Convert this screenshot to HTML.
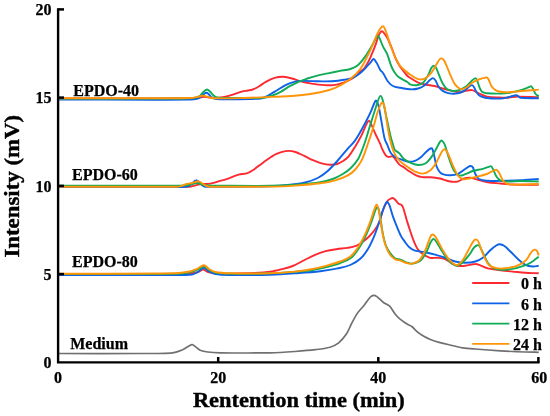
<!DOCTYPE html>
<html><head><meta charset="utf-8"><title>GPC chart</title>
<style>
html,body{margin:0;padding:0;background:#fff;}
body{width:550px;height:416px;overflow:hidden;}
svg{display:block;font-family:"Liberation Serif","Times New Roman",serif;font-weight:bold;fill:#000;stroke:#000;stroke-width:0.25;}
.c path{fill:none;stroke-width:1.9;stroke-linejoin:round;stroke-linecap:butt;}
.a path{fill:none;stroke:#000;stroke-width:2.4;stroke-linecap:square;}
.a path.k{stroke-width:2.5;stroke-linecap:butt;}
.l{font-size:16px;}
.t{font-size:21.6px;stroke-width:0.4;}
</style></head><body>
<svg width="550" height="416" viewBox="0 0 550 416">
<rect width="550" height="416" fill="#fff" stroke="none"/>
<g class="c">
<path d="M58.5 353.5C85.7 353.5 112.8 353.6 140.0 353.5C148.4 353.5 156.7 353.6 165.1 353.3C168.4 353.2 171.8 353.0 175.1 352.3C177.6 351.8 180.1 350.8 182.6 349.7C184.7 348.7 186.8 347.1 188.9 346.0C190.0 345.4 191.1 344.6 192.2 344.7C193.2 344.8 194.2 345.8 195.2 346.5C196.9 347.6 198.5 349.5 200.2 350.2C202.7 351.3 205.2 351.7 207.7 352.0C211.9 352.5 216.1 352.7 220.3 352.8C236.9 353.0 253.4 353.1 270.0 352.8C278.4 352.7 286.7 352.1 295.1 351.5C301.8 351.0 308.5 350.5 315.2 349.7C320.1 349.1 325.1 348.6 330.0 347.2C332.9 346.3 335.8 345.1 338.7 342.8C341.3 340.7 343.8 337.9 346.4 334.1C348.2 331.4 350.0 326.6 351.8 323.2C353.6 319.7 355.5 316.1 357.3 313.4C359.5 310.2 361.6 308.4 363.8 305.7C366.0 302.9 368.2 299.3 370.4 297.0C371.5 295.9 372.5 295.4 373.6 295.3C374.7 295.2 375.8 295.8 376.9 296.6C379.1 298.2 381.3 300.8 383.5 302.5C385.0 303.6 386.5 304.1 388.0 305.0C388.7 305.4 389.3 305.6 390.0 306.4C391.8 308.7 393.7 312.2 395.5 314.5C396.9 316.3 398.4 317.6 399.8 318.8C402.4 320.9 404.9 322.7 407.5 324.3C408.9 325.2 410.4 325.4 411.8 326.5C413.6 327.9 415.5 330.4 417.3 331.9C419.5 333.7 421.6 335.0 423.8 336.3C426.0 337.6 428.2 338.6 430.4 339.5C433.3 340.7 436.2 341.6 439.1 342.4C442.7 343.4 446.4 344.2 450.0 345.0C454.2 346.0 458.5 347.1 462.7 347.8C466.9 348.5 471.1 348.7 475.3 349.0C483.7 349.7 492.0 350.3 500.4 350.8C508.7 351.3 517.1 351.7 525.4 352.0C529.8 352.2 534.3 352.2 538.7 352.3" stroke="#707070" style="stroke-width:1.7"/>
<path d="M58.5 98.5C89.0 98.5 119.5 98.5 150.0 98.5C163.3 98.5 176.7 98.5 190.0 98.4C192.7 98.4 195.3 98.3 198.0 98.0C200.0 97.8 202.0 96.9 204.0 96.8C205.3 96.7 206.7 97.1 208.0 97.3C210.0 97.5 212.0 98.0 214.0 98.0C216.9 98.0 219.9 97.8 222.8 97.3C225.5 96.9 228.2 96.0 230.9 95.2C234.5 94.1 238.2 92.6 241.8 91.6C243.8 91.0 245.9 90.9 247.9 90.5C249.5 90.2 251.1 90.1 252.7 89.5C254.9 88.7 257.1 87.5 259.3 86.2C261.5 84.9 263.6 83.0 265.8 81.8C268.7 80.2 271.6 78.7 274.5 77.9C277.4 77.1 280.4 76.7 283.3 76.8C286.2 76.9 289.1 77.7 292.0 78.5C294.9 79.3 297.8 80.6 300.7 81.4C304.3 82.3 308.0 83.0 311.6 83.6C316.0 84.3 320.3 84.8 324.7 85.1C327.6 85.3 330.6 85.5 333.5 85.1C336.6 84.7 339.7 83.9 342.8 82.8C346.1 81.6 349.5 80.3 352.8 78.2C355.2 76.7 357.6 73.9 360.0 71.8C361.5 70.5 363.0 69.9 364.5 68.0C366.0 66.1 367.5 63.4 369.0 60.5C370.1 58.4 371.1 55.8 372.2 53.2C373.4 50.4 374.5 47.5 375.7 44.3C376.7 41.6 377.7 37.9 378.7 35.4C379.3 33.8 380.0 33.0 380.6 32.2C381.1 31.6 381.6 31.2 382.1 31.3C382.7 31.4 383.2 32.1 383.8 32.8C384.5 33.6 385.3 34.7 386.0 35.8C386.7 36.9 387.5 37.9 388.2 39.5C389.5 42.3 390.8 45.7 392.1 49.0C393.4 52.2 394.6 56.2 395.9 59.0C397.2 61.8 398.4 63.9 399.7 66.0C400.6 67.4 401.4 68.4 402.3 69.5C404.0 71.7 405.8 74.1 407.5 76.0C408.3 76.9 409.2 77.3 410.0 77.8C412.7 79.5 415.5 81.5 418.2 82.7C420.9 83.9 423.7 84.1 426.4 84.7C429.1 85.2 431.8 85.4 434.5 86.0C437.2 86.6 440.0 87.7 442.7 88.5C445.8 89.4 448.9 90.2 452.0 90.9C454.4 91.4 456.7 92.2 459.1 92.2C461.3 92.2 463.4 91.2 465.6 90.9C467.8 90.5 470.0 89.7 472.2 90.1C474.4 90.5 476.5 92.4 478.7 93.4C481.4 94.6 484.2 96.1 486.9 96.6C491.3 97.4 495.6 97.3 500.0 97.5C502.6 97.6 505.3 97.8 507.9 97.7C511.2 97.5 514.6 96.6 517.9 96.6C524.8 96.5 531.8 97.1 538.7 97.3" stroke="#fc2a30"/>
<path d="M58.5 99.6C89.0 99.6 119.5 99.7 150.0 99.7C163.3 99.7 176.7 99.8 190.0 99.6C192.3 99.6 194.7 99.5 197.0 98.9C198.3 98.6 199.7 97.7 201.0 96.8C202.0 96.1 203.0 94.8 204.0 94.0C204.8 93.4 205.5 92.8 206.3 92.8C207.0 92.8 207.8 93.4 208.5 94.0C209.3 94.7 210.2 96.1 211.0 96.8C212.0 97.6 213.0 98.3 214.0 98.6C216.0 99.1 218.0 99.2 220.0 99.2C230.0 99.3 240.0 99.2 250.0 99.0C254.0 98.9 258.0 98.9 262.0 98.2C264.0 97.8 266.0 96.7 268.0 95.7C269.3 95.0 270.7 94.0 272.0 93.2C273.6 92.3 275.1 91.4 276.7 90.5C279.6 88.7 282.6 86.6 285.5 85.1C288.4 83.7 291.3 82.5 294.2 81.8C297.1 81.1 300.0 81.0 302.9 80.9C308.0 80.8 313.1 81.2 318.2 81.3C322.8 81.3 327.4 81.5 332.0 81.2C336.0 81.0 340.0 80.5 344.0 79.8C347.2 79.2 350.5 78.7 353.7 77.3C356.1 76.3 358.5 74.5 360.9 72.5C363.3 70.5 365.7 67.7 368.1 65.2C369.2 64.0 370.4 62.6 371.5 61.3C372.2 60.5 372.9 58.8 373.6 59.0C374.6 59.3 375.6 61.1 376.6 62.7C377.9 64.8 379.1 68.2 380.4 70.2C381.2 71.5 382.1 71.4 382.9 72.7C384.6 75.2 386.2 79.3 387.9 81.5C389.6 83.7 391.2 85.2 392.9 86.0C395.4 87.3 398.0 87.3 400.5 87.8C403.7 88.4 406.8 89.2 410.0 89.3C412.7 89.4 415.5 89.3 418.2 88.5C420.4 87.9 422.5 86.8 424.7 85.2C426.3 84.0 428.0 81.7 429.6 80.3C430.7 79.3 431.8 78.1 432.9 78.1C433.7 78.1 434.6 79.0 435.4 80.3C436.5 81.9 437.5 85.3 438.6 86.8C440.0 88.8 441.3 90.1 442.7 90.9C444.9 92.3 447.1 93.0 449.3 93.4C452.0 93.9 454.8 93.9 457.5 93.4C459.7 93.0 461.8 92.2 464.0 90.9C465.6 90.0 467.3 88.0 468.9 86.8C469.9 86.1 470.9 85.1 471.9 85.1C472.5 85.1 473.2 85.8 473.8 86.8C474.6 88.0 475.5 90.4 476.3 91.7C477.4 93.4 478.5 95.1 479.6 95.8C481.5 97.1 483.4 97.5 485.3 97.8C490.3 98.5 495.4 98.8 500.4 98.6C503.7 98.4 507.1 97.3 510.4 96.6C512.5 96.2 514.6 95.0 516.7 95.3C517.9 95.4 519.2 97.6 520.4 97.8C526.5 98.6 532.6 98.1 538.7 98.3" stroke="#0e62e8"/>
<path d="M58.5 98.6C89.0 98.6 119.5 98.7 150.0 98.6C163.3 98.6 176.7 98.6 190.0 98.3C192.3 98.2 194.7 98.0 197.0 97.4C198.2 97.1 199.3 96.5 200.5 95.5C201.5 94.6 202.5 92.7 203.5 91.8C204.6 90.7 205.8 89.6 206.9 89.5C207.9 89.5 209.0 90.6 210.0 91.5C211.0 92.4 212.0 94.0 213.0 95.0C214.0 96.0 215.0 96.9 216.0 97.2C218.0 97.8 220.0 97.8 222.0 97.9C226.3 98.1 230.7 98.0 235.0 98.0C241.7 98.0 248.3 98.1 255.0 98.0C258.3 98.0 261.7 98.1 265.0 97.6C267.5 97.2 269.9 96.4 272.4 95.5C275.3 94.4 278.2 93.2 281.1 91.6C284.0 90.0 286.9 87.8 289.8 86.2C292.7 84.6 295.6 83.1 298.5 81.8C301.4 80.5 304.4 79.5 307.3 78.5C310.9 77.3 314.6 76.2 318.2 75.3C321.8 74.4 325.5 73.8 329.1 73.1C332.7 72.4 336.4 71.6 340.0 70.9C343.4 70.2 346.9 70.1 350.3 69.0C352.8 68.2 355.3 67.3 357.8 65.2C360.3 63.1 362.8 59.9 365.3 56.4C367.8 52.8 370.4 48.2 372.9 43.9C374.2 41.7 375.5 39.0 376.8 37.0C377.3 36.3 377.8 35.5 378.3 35.8C378.9 36.2 379.4 37.9 380.0 39.2C381.1 41.6 382.1 44.7 383.2 46.9C384.5 49.5 385.7 50.8 387.0 53.6C387.8 55.5 388.7 58.5 389.5 60.9C390.1 62.8 390.8 65.0 391.4 66.5C392.3 68.5 393.1 70.2 394.0 71.5C395.3 73.5 396.6 75.5 397.9 76.5C401.3 79.1 404.6 80.3 408.0 82.5C408.7 82.9 409.3 84.2 410.0 84.4C412.2 85.1 414.3 85.5 416.5 85.2C418.7 84.9 420.9 84.6 423.1 82.7C424.7 81.3 426.4 78.3 428.0 75.4C429.1 73.4 430.2 69.9 431.3 68.0C432.1 66.7 432.9 65.8 433.7 65.8C434.5 65.8 435.4 66.5 436.2 68.0C437.3 70.0 438.4 73.6 439.5 76.2C440.6 78.8 441.6 81.7 442.7 83.6C444.1 86.0 445.4 88.0 446.8 89.0C448.7 90.4 450.7 90.7 452.6 90.9C454.8 91.1 456.9 90.8 459.1 90.1C461.3 89.4 463.4 88.4 465.6 86.8C467.5 85.4 469.5 82.8 471.4 81.1C472.8 79.9 474.1 78.3 475.5 78.1C476.0 78.0 476.6 79.1 477.1 80.3C477.9 82.2 478.8 85.7 479.6 87.6C480.4 89.5 481.2 91.1 482.0 91.7C483.6 93.0 485.3 93.0 486.9 93.2C491.4 93.7 495.9 93.7 500.4 93.6C503.5 93.6 506.5 93.4 509.6 92.9C512.8 92.4 516.0 91.6 519.2 90.7C521.5 90.1 523.7 89.2 526.0 88.3C527.2 87.9 528.3 87.3 529.5 86.8C530.1 86.6 530.7 85.8 531.3 86.2C531.9 86.6 532.6 88.1 533.2 89.2C534.0 90.7 534.8 93.0 535.6 94.0C536.6 95.3 537.7 95.5 538.7 96.2" stroke="#10ab56"/>
<path d="M58.5 98.2C89.0 98.2 119.5 98.2 150.0 98.2C163.3 98.2 176.7 98.4 190.0 98.0C192.7 97.9 195.3 97.3 198.0 96.8C199.8 96.5 201.7 95.6 203.5 95.6C205.0 95.6 206.5 96.6 208.0 97.0C210.0 97.5 212.0 98.1 214.0 98.2C222.7 98.5 231.3 98.3 240.0 98.1C250.0 97.9 260.0 97.3 270.0 96.9C278.4 96.6 286.7 96.6 295.1 95.8C303.5 95.0 311.8 94.0 320.2 92.3C325.2 91.3 330.2 90.0 335.2 87.8C340.2 85.6 345.3 82.8 350.3 79.0C353.6 76.5 357.0 73.8 360.3 69.0C363.7 64.2 367.0 57.1 370.4 50.1C372.9 44.9 375.4 37.4 377.9 32.6C379.6 29.4 381.2 26.6 382.9 26.3C383.9 26.1 384.9 28.8 385.9 31.3C387.4 35.1 388.9 40.9 390.4 45.1C392.1 49.7 393.7 54.2 395.4 57.7C397.1 61.3 398.8 64.4 400.5 66.4C403.7 70.0 406.8 72.2 410.0 74.5C412.7 76.5 415.5 78.3 418.2 79.1C420.4 79.7 422.5 79.6 424.7 78.6C426.9 77.6 429.1 75.6 431.3 72.9C432.9 70.9 434.6 67.4 436.2 64.7C437.3 62.9 438.4 60.8 439.5 59.5C440.2 58.7 440.9 58.3 441.6 58.4C442.4 58.5 443.1 58.9 443.9 60.1C444.9 61.6 445.8 64.2 446.8 66.4C448.2 69.5 449.5 73.2 450.9 76.2C452.3 79.2 453.6 82.4 455.0 84.4C456.4 86.4 457.7 87.4 459.1 88.3C460.2 89.0 461.3 89.2 462.4 89.1C463.8 88.9 465.1 88.2 466.5 87.3C468.4 86.1 470.3 83.9 472.2 82.7C474.4 81.3 476.5 80.4 478.7 79.5C480.6 78.7 482.6 78.3 484.5 77.8C485.3 77.6 486.1 77.1 486.9 77.4C487.5 77.6 488.0 78.4 488.6 79.5C489.4 81.0 490.2 83.8 491.0 85.2C492.1 87.1 493.2 88.5 494.3 89.3C496.2 90.7 498.1 91.4 500.0 91.8C502.6 92.4 505.3 92.3 507.9 92.2C511.7 92.1 515.4 91.6 519.2 91.3C523.0 91.0 526.7 90.6 530.5 90.3C533.2 90.1 536.0 89.8 538.7 89.6" stroke="#ff9408"/>
<path d="M58.5 186.8C99.0 186.8 139.5 186.8 180.0 186.8C183.0 186.8 186.0 187.1 189.0 186.8C191.2 186.6 193.3 185.9 195.5 185.4C197.6 184.9 199.7 184.2 201.8 184.0C203.9 183.7 206.1 184.1 208.2 183.9C210.3 183.7 212.4 183.1 214.5 182.6C216.6 182.1 218.8 181.3 220.9 180.7C223.0 180.1 225.2 179.5 227.3 178.8C229.4 178.1 231.5 177.1 233.6 176.3C235.3 175.7 237.0 175.0 238.7 174.6C241.6 173.9 244.6 174.2 247.5 173.2C249.7 172.5 251.8 171.0 254.0 169.5C256.9 167.5 259.8 165.0 262.7 162.9C266.3 160.3 270.0 157.3 273.6 155.3C276.5 153.6 279.5 152.7 282.4 151.8C284.4 151.2 286.5 150.9 288.5 150.9C290.8 150.9 293.2 151.3 295.5 152.0C298.4 152.9 301.3 154.6 304.2 155.9C307.1 157.2 310.0 158.9 312.9 160.1C315.8 161.3 318.7 162.5 321.6 163.3C324.5 164.1 327.5 164.6 330.4 164.7C332.6 164.8 334.7 164.7 336.9 164.0C339.1 163.3 341.3 162.1 343.5 160.7C345.2 159.6 346.8 158.6 348.5 156.6C350.8 153.9 353.0 150.1 355.3 146.4C357.4 143.0 359.5 139.4 361.6 135.2C363.3 131.9 364.9 127.1 366.6 123.9C367.4 122.3 368.3 120.4 369.1 120.6C369.9 120.8 370.8 123.3 371.6 125.1C372.9 127.8 374.1 131.1 375.4 133.9C376.9 137.2 378.5 140.0 380.0 143.4C380.8 145.2 381.6 147.7 382.4 149.4C383.4 151.5 384.4 153.6 385.4 154.8C386.4 156.1 387.4 156.7 388.4 156.9C389.6 157.2 390.8 156.3 392.0 156.4C392.6 156.4 393.2 156.7 393.8 157.2C394.4 157.7 395.0 158.8 395.6 159.6C396.8 161.2 398.0 163.3 399.2 164.4C400.8 165.9 402.4 166.4 404.0 167.5C406.0 168.9 408.0 170.4 410.0 171.7C412.0 173.0 414.1 174.4 416.1 175.3C418.1 176.2 420.1 176.8 422.1 177.1C424.9 177.5 427.7 177.2 430.5 177.3C432.1 177.4 433.7 177.5 435.3 177.7C436.9 177.9 438.5 178.1 440.1 178.5C443.5 179.4 446.8 180.9 450.2 181.5C452.7 181.9 455.2 182.0 457.7 181.5C459.8 181.0 461.9 179.1 464.0 178.5C466.1 177.9 468.1 177.6 470.2 177.8C472.7 178.0 475.3 179.2 477.8 179.8C481.1 180.7 484.5 181.8 487.8 182.3C492.0 183.0 496.2 183.1 500.4 183.5C504.6 183.9 508.7 184.4 512.9 184.5C521.5 184.8 530.1 184.7 538.7 184.8" stroke="#fc2a30"/>
<path d="M58.5 187.0C99.0 187.0 139.5 187.2 180.0 187.0C182.7 187.0 185.3 187.1 188.0 186.3C189.3 185.9 190.7 184.5 192.0 183.5C193.4 182.5 194.7 180.4 196.1 180.2C197.2 180.0 198.4 181.6 199.5 182.5C200.7 183.4 201.8 185.2 203.0 185.8C204.7 186.7 206.3 186.9 208.0 186.9C228.7 187.0 249.3 186.7 270.0 186.2C276.7 186.0 283.3 185.5 290.0 184.8C295.0 184.3 300.1 183.7 305.1 182.5C309.3 181.5 313.5 180.1 317.7 178.0C321.0 176.3 324.4 173.9 327.7 171.0C331.0 168.1 334.4 164.2 337.7 160.5C341.1 156.7 344.4 152.5 347.8 148.6C350.0 146.1 352.2 144.3 354.4 141.4C356.4 138.7 358.4 135.2 360.4 131.8C362.4 128.4 364.4 124.6 366.4 120.8C367.8 118.1 369.2 115.3 370.6 112.2C371.9 109.2 373.3 105.2 374.6 102.5C375.2 101.4 375.7 100.2 376.3 100.7C377.1 101.4 377.8 103.0 378.6 106.0C379.5 109.4 380.3 115.4 381.2 120.1C382.3 125.9 383.3 133.3 384.4 137.7C385.3 141.5 386.3 142.4 387.2 144.6C388.4 147.5 389.6 151.2 390.8 153.0C392.4 155.4 394.0 156.2 395.6 157.2C397.6 158.4 399.6 158.9 401.6 159.6C404.0 160.4 406.4 161.5 408.8 161.7C410.8 161.9 412.9 161.6 414.9 160.8C416.9 160.1 418.9 158.8 420.9 157.2C422.9 155.6 424.9 153.0 426.9 151.2C428.1 150.1 429.3 149.0 430.5 148.5C431.1 148.2 431.7 147.7 432.3 148.8C432.9 150.0 433.5 152.9 434.1 155.4C434.9 158.7 435.7 164.0 436.5 166.3C437.7 169.6 438.8 171.0 440.0 172.3C441.2 173.7 442.3 174.1 443.5 174.4C445.7 175.1 448.0 175.4 450.2 175.3C452.7 175.2 455.2 175.1 457.7 174.0C460.2 172.9 462.7 170.6 465.2 169.0C466.9 167.9 468.5 166.4 470.2 166.0C471.1 165.8 471.9 165.8 472.8 167.2C473.6 168.5 474.5 172.4 475.3 174.0C476.5 176.3 477.8 178.3 479.0 179.0C481.9 180.6 484.9 180.6 487.8 180.8C493.7 181.2 499.5 180.9 505.4 180.8C510.4 180.7 515.4 180.6 520.4 180.3C526.5 180.0 532.6 179.4 538.7 179.0" stroke="#0e62e8"/>
<path d="M58.5 185.6C99.0 185.6 139.5 185.8 180.0 185.6C182.7 185.6 185.3 185.4 188.0 185.0C189.7 184.8 191.3 184.2 193.0 183.8C194.2 183.5 195.5 183.0 196.7 183.0C197.8 183.0 198.9 183.5 200.0 183.8C201.7 184.3 203.3 185.1 205.0 185.3C208.3 185.7 211.7 185.6 215.0 185.6C233.3 185.7 251.7 186.0 270.0 185.8C278.4 185.7 286.7 185.4 295.1 184.8C303.5 184.2 311.8 183.6 320.2 182.3C324.4 181.7 328.5 180.5 332.7 179.0C336.1 177.8 339.4 176.0 342.8 174.0C345.3 172.5 347.8 171.0 350.3 168.5C353.0 165.9 355.6 163.4 358.3 158.7C360.3 155.1 362.4 149.5 364.4 143.8C366.0 139.2 367.7 133.2 369.3 128.0C371.2 122.0 373.0 116.1 374.9 110.3C376.1 106.6 377.2 102.4 378.4 99.5C379.1 97.6 379.9 95.8 380.6 95.9C381.3 95.9 381.9 97.4 382.6 99.8C383.7 103.8 384.9 109.9 386.0 115.1C387.4 121.7 388.9 129.1 390.3 135.2C391.1 138.5 391.8 140.8 392.6 143.4C393.2 145.4 393.8 148.0 394.4 149.2C395.1 150.6 395.8 150.7 396.5 151.3C397.4 152.1 398.3 152.3 399.2 153.2C400.8 154.8 402.4 157.7 404.0 159.0C406.4 161.0 408.9 162.2 411.3 163.2C413.7 164.2 416.1 165.0 418.5 165.0C420.9 165.0 423.3 164.7 425.7 163.2C427.7 161.9 429.7 159.4 431.7 156.6C433.3 154.4 434.9 151.1 436.5 148.2C437.7 146.1 438.9 143.2 440.1 141.6C440.7 140.7 441.4 140.3 442.0 140.7C442.9 141.3 443.8 142.2 444.7 144.5C446.1 148.0 447.5 154.1 448.9 158.0C450.6 162.7 452.2 167.5 453.9 170.4C455.6 173.3 457.3 174.9 459.0 175.5C461.1 176.2 463.1 174.9 465.2 174.2C467.7 173.4 470.3 171.8 472.8 171.0C476.1 170.0 479.5 169.7 482.8 168.8C484.9 168.3 486.9 167.4 489.0 166.8C489.7 166.6 490.5 165.8 491.2 166.3C491.9 166.7 492.5 168.2 493.2 169.5C494.3 171.7 495.5 175.1 496.6 176.8C497.9 178.7 499.1 180.0 500.4 180.5C502.9 181.6 505.4 181.5 507.9 181.6C512.1 181.7 516.2 181.0 520.4 181.0C526.5 181.0 532.6 181.3 538.7 181.5" stroke="#10ab56"/>
<path d="M58.5 186.7C97.7 186.7 136.8 187.0 176.0 186.7C178.0 186.7 180.0 186.3 182.0 185.8C183.5 185.4 185.0 184.4 186.5 184.0C188.0 183.6 189.5 183.6 191.0 183.2C192.3 182.9 193.7 182.4 195.0 182.0C196.0 181.7 197.0 181.2 198.0 181.3C199.0 181.4 200.0 181.9 201.0 182.5C202.2 183.2 203.3 184.3 204.5 185.0C205.7 185.7 206.8 186.4 208.0 186.5C212.0 187.0 216.0 186.8 220.0 186.8C236.7 186.8 253.3 186.9 270.0 186.6C278.3 186.5 286.7 186.1 295.0 185.6C303.4 185.0 311.8 184.4 320.2 183.3C325.2 182.6 330.2 181.7 335.2 180.3C339.4 179.1 343.6 177.6 347.8 175.3C350.3 174.0 352.8 172.3 355.3 169.5C357.5 167.0 359.8 164.2 362.0 159.6C363.9 155.7 365.9 149.5 367.8 144.0C369.5 139.2 371.2 134.1 372.9 128.6C374.6 123.2 376.2 116.5 377.9 111.3C378.9 108.2 379.9 105.8 380.9 103.8C381.4 102.8 381.9 102.1 382.4 102.5C383.1 103.0 383.7 103.3 384.4 106.3C385.3 110.2 386.1 117.9 387.0 123.0C388.0 128.9 389.0 135.2 390.0 139.5C391.2 144.7 392.4 148.6 393.6 151.5C395.1 155.1 396.5 157.2 398.0 159.0C400.1 161.5 402.1 162.7 404.2 164.4C405.3 165.3 406.4 166.1 407.5 166.8C410.0 168.4 412.5 170.4 415.0 171.5C417.5 172.6 420.1 173.8 422.6 173.6C425.1 173.5 427.6 172.6 430.1 170.6C432.2 168.9 434.3 165.9 436.4 162.5C438.1 159.8 439.7 155.1 441.4 152.4C442.5 150.7 443.5 149.0 444.6 149.2C445.7 149.4 446.8 151.3 447.9 153.5C449.6 156.8 451.2 161.9 452.9 165.6C454.6 169.3 456.2 173.2 457.9 175.5C459.6 177.8 461.2 178.8 462.9 179.2C465.3 179.7 467.8 178.7 470.2 178.2C473.6 177.6 476.9 176.8 480.3 175.9C482.8 175.2 485.3 174.6 487.8 173.6C489.8 172.8 491.8 171.4 493.8 170.5C494.7 170.1 495.7 169.4 496.6 169.8C497.5 170.2 498.3 171.6 499.2 173.0C500.5 175.1 501.7 178.7 503.0 180.5C504.2 182.2 505.4 183.2 506.6 183.7C508.9 184.6 511.2 184.6 513.5 184.6C521.9 184.7 530.3 184.2 538.7 184.0" stroke="#ff9408"/>
<path d="M58.5 274.1C97.3 274.1 136.2 274.2 175.0 274.0C180.0 274.0 185.0 273.9 190.0 273.5C192.7 273.3 195.3 272.8 198.0 272.0C199.7 271.5 201.4 269.6 203.1 269.6C204.7 269.6 206.4 271.5 208.0 272.0C210.4 272.7 212.9 273.1 215.3 273.3C220.2 273.7 225.1 273.6 230.0 273.6C238.3 273.5 246.7 273.4 255.0 273.0C260.0 272.8 265.0 272.5 270.0 271.8C273.9 271.2 277.9 270.2 281.8 269.2C285.4 268.3 289.1 267.4 292.7 266.0C296.3 264.6 300.0 262.3 303.6 260.5C307.2 258.7 310.9 256.6 314.5 255.1C318.2 253.5 321.8 252.2 325.5 251.2C329.1 250.2 332.8 249.7 336.4 249.2C340.0 248.6 343.7 248.5 347.3 247.9C350.2 247.4 353.1 247.0 356.0 245.9C358.2 245.1 360.3 243.6 362.5 242.0C364.7 240.4 366.9 238.7 369.1 236.5C371.2 234.4 373.3 232.0 375.4 229.0C376.6 227.3 377.9 225.4 379.1 222.4C380.4 219.3 381.6 214.0 382.9 210.5C383.9 207.7 384.9 205.5 385.9 203.5C386.6 202.1 387.3 201.0 388.0 200.3C388.8 199.5 389.6 199.2 390.4 198.8C391.1 198.4 391.9 197.9 392.6 198.0C393.3 198.1 394.0 198.6 394.7 199.2C395.4 199.8 396.2 200.9 396.9 201.8C397.4 202.4 397.9 203.2 398.4 203.6C399.0 204.1 399.6 204.0 400.2 204.3C400.7 204.5 401.2 204.5 401.7 205.2C402.3 205.9 402.8 207.0 403.4 208.5C403.9 209.8 404.4 211.8 404.9 213.5C405.4 215.2 405.9 217.3 406.4 219.0C407.6 222.8 408.7 226.5 409.9 230.0C411.1 233.5 412.2 237.3 413.4 240.2C414.8 243.7 416.2 246.9 417.6 249.0C419.3 251.5 420.9 252.8 422.6 254.0C425.1 255.8 427.6 257.2 430.1 257.8C432.6 258.4 435.1 257.6 437.6 257.8C440.1 258.0 442.7 258.0 445.2 259.0C447.7 260.0 450.2 262.6 452.7 264.0C454.4 264.9 456.0 265.6 457.7 265.8C460.2 266.2 462.7 266.1 465.2 265.8C468.6 265.5 471.9 264.1 475.3 264.0C477.0 263.9 478.6 264.7 480.3 265.3C482.8 266.2 485.3 267.7 487.8 268.3C492.0 269.3 496.2 269.7 500.4 270.3C504.6 270.8 508.7 271.2 512.9 271.6C517.1 272.0 521.2 272.5 525.4 272.8C529.8 273.1 534.3 273.1 538.7 273.3" stroke="#fc2a30"/>
<path d="M58.5 275.0C99.0 275.0 139.5 275.1 180.0 275.0C184.0 275.0 188.0 275.3 192.0 274.6C194.0 274.3 196.0 273.2 198.0 272.0C199.9 270.9 201.9 267.9 203.8 267.8C205.5 267.7 207.3 270.6 209.0 271.5C211.1 272.6 213.2 273.6 215.3 274.0C220.2 274.8 225.1 274.9 230.0 275.0C243.3 275.2 256.7 275.0 270.0 274.7C278.4 274.5 286.7 273.9 295.1 273.3C303.5 272.7 311.8 272.2 320.2 271.2C326.0 270.5 331.9 269.6 337.7 268.4C341.9 267.5 346.1 266.8 350.3 265.0C353.6 263.6 357.0 261.8 360.3 258.8C362.8 256.6 365.3 253.4 367.8 249.3C369.9 245.9 372.0 241.4 374.1 236.4C375.8 232.5 377.4 227.6 379.1 222.6C380.4 218.8 381.6 213.7 382.9 210.1C383.9 207.2 384.9 204.9 385.9 203.1C386.4 202.2 386.9 201.8 387.4 202.1C388.1 202.5 388.7 203.4 389.4 205.1C390.6 208.1 391.7 213.1 392.9 216.4C394.4 220.6 395.8 224.1 397.3 227.6C398.6 230.7 399.9 233.9 401.2 236.4C402.3 238.5 403.5 239.9 404.6 241.4C406.2 243.5 407.7 245.9 409.3 247.3C411.2 249.0 413.1 250.1 415.0 250.7C418.4 251.7 421.7 251.5 425.1 252.2C428.4 252.9 431.8 253.8 435.1 254.7C438.5 255.6 441.8 256.7 445.2 257.8C448.5 258.9 451.9 260.7 455.2 261.5C458.5 262.3 461.9 262.8 465.2 262.8C468.6 262.8 471.9 262.5 475.3 261.5C477.8 260.8 480.3 259.7 482.8 257.8C485.3 255.9 487.8 252.5 490.3 250.2C492.4 248.3 494.5 246.6 496.6 245.3C497.7 244.6 498.7 244.1 499.8 244.2C501.2 244.3 502.7 244.8 504.1 245.8C506.2 247.2 508.3 249.5 510.4 251.5C512.9 253.9 515.4 256.8 517.9 259.0C520.4 261.2 522.9 263.6 525.4 264.8C527.9 266.1 530.5 266.3 533.0 266.5C534.9 266.6 536.8 266.0 538.7 265.8" stroke="#0e62e8"/>
<path d="M58.5 274.0C98.3 273.9 138.2 274.2 178.0 273.7C182.0 273.6 186.0 273.1 190.0 272.3C192.7 271.7 195.3 270.6 198.0 269.5C200.0 268.7 202.0 266.4 204.0 266.5C205.7 266.6 207.3 269.1 209.0 270.0C211.1 271.1 213.2 272.2 215.3 272.6C220.2 273.5 225.1 273.7 230.0 273.8C243.3 274.0 256.7 273.7 270.0 273.3C278.4 273.0 286.7 272.4 295.1 271.8C300.9 271.3 306.8 270.9 312.6 270.0C317.6 269.2 322.7 268.1 327.7 266.8C331.9 265.7 336.0 264.6 340.2 263.0C344.0 261.5 347.7 260.5 351.5 257.5C354.0 255.5 356.5 251.9 359.0 248.0C361.5 244.1 364.0 239.3 366.5 234.0C368.2 230.4 369.9 225.9 371.6 221.4C372.8 218.1 374.1 213.7 375.3 210.5C375.9 208.9 376.5 207.2 377.1 207.1C377.7 207.0 378.3 207.8 378.9 210.0C379.5 212.2 380.1 216.5 380.7 220.1C381.5 224.9 382.3 231.4 383.1 235.2C384.1 240.0 385.1 243.5 386.1 246.0C387.5 249.6 389.0 251.5 390.4 253.4C392.1 255.7 393.7 257.6 395.4 258.6C397.1 259.6 398.8 259.0 400.5 259.6C402.4 260.3 404.4 261.8 406.3 262.4C408.4 263.1 410.4 264.0 412.5 263.6C415.4 263.1 418.4 262.5 421.3 259.8C423.3 258.0 425.3 254.0 427.3 250.2C428.4 248.1 429.5 244.4 430.6 242.3C431.5 240.7 432.3 239.3 433.2 239.0C433.9 238.7 434.7 239.6 435.4 240.5C437.0 242.5 438.5 245.4 440.1 247.9C442.2 251.2 444.3 255.1 446.4 257.8C448.5 260.5 450.6 262.4 452.7 264.0C454.2 265.1 455.7 266.1 457.2 265.8C459.0 265.5 460.9 263.9 462.7 262.3C464.8 260.4 466.9 257.9 469.0 255.2C470.7 253.0 472.3 249.7 474.0 247.7C475.1 246.4 476.2 245.4 477.3 245.2C478.1 245.0 479.0 245.3 479.8 246.5C481.2 248.6 482.6 252.3 484.0 255.2C485.3 257.8 486.5 261.0 487.8 262.8C489.5 265.2 491.1 266.5 492.8 267.8C493.7 268.5 494.6 268.5 495.5 268.7C497.3 269.1 499.1 269.5 500.9 269.7C502.7 269.9 504.6 269.8 506.4 269.7C508.2 269.6 510.0 269.2 511.8 268.9C513.6 268.6 515.5 268.3 517.3 267.8C519.1 267.4 520.9 266.8 522.7 266.2C524.5 265.6 526.4 264.9 528.2 264.0C530.0 263.1 531.8 261.9 533.6 260.7C535.3 259.5 537.0 258.1 538.7 256.8" stroke="#10ab56"/>
<path d="M58.5 273.7C97.3 273.6 136.2 273.9 175.0 273.3C179.3 273.2 183.7 272.7 188.0 271.8C191.0 271.2 194.0 270.0 197.0 268.8C199.3 267.8 201.7 265.2 204.0 265.2C205.7 265.2 207.3 268.0 209.0 269.0C211.1 270.3 213.2 271.6 215.3 272.0C220.2 273.0 225.1 273.2 230.0 273.3C243.3 273.6 256.7 273.5 270.0 273.2C278.4 273.0 286.7 272.4 295.1 271.6C300.9 271.0 306.8 270.1 312.6 269.0C317.6 268.0 322.7 266.7 327.7 265.3C331.9 264.2 336.0 263.1 340.2 261.5C343.6 260.2 346.9 259.1 350.3 256.5C352.8 254.5 355.3 251.5 357.8 247.7C360.3 243.9 362.8 239.1 365.3 233.9C367.0 230.4 368.7 226.0 370.4 221.4C371.6 218.1 372.9 213.4 374.1 210.1C374.9 207.8 375.8 204.9 376.6 204.6C377.2 204.4 377.8 206.4 378.4 208.8C379.1 211.5 379.7 216.2 380.4 220.1C381.2 225.0 382.1 231.2 382.9 235.2C383.9 240.0 384.9 243.8 385.9 246.5C387.4 250.5 388.9 253.3 390.4 255.3C392.1 257.6 393.7 258.5 395.4 259.4C397.1 260.3 398.8 260.0 400.5 260.6C402.4 261.2 404.4 262.4 406.3 263.0C408.0 263.5 409.8 264.2 411.5 263.8C414.1 263.3 416.7 262.8 419.3 260.3C421.2 258.4 423.2 254.6 425.1 250.6C426.4 248.0 427.6 243.8 428.9 240.6C429.6 238.8 430.3 236.8 431.0 235.6C431.5 234.7 432.1 234.5 432.6 234.5C433.2 234.5 433.7 234.8 434.3 235.4C435.0 236.1 435.7 237.0 436.4 238.2C438.1 241.1 439.7 244.8 441.4 247.7C443.5 251.3 445.6 255.1 447.7 257.8C449.8 260.5 451.8 262.6 453.9 264.0C455.2 264.9 456.4 265.3 457.7 264.8C459.4 264.1 461.0 262.6 462.7 260.3C464.8 257.4 466.9 252.7 469.0 249.0C470.4 246.4 471.9 243.4 473.3 241.4C474.1 240.2 475.0 239.4 475.8 239.4C476.6 239.4 477.5 239.8 478.3 241.4C479.4 243.4 480.4 247.5 481.5 250.2C482.8 253.4 484.0 256.5 485.3 259.0C486.6 261.5 487.8 264.2 489.1 265.3C491.2 267.2 493.4 267.3 495.5 267.9C497.3 268.4 499.1 268.6 500.9 268.6C502.7 268.6 504.6 268.3 506.4 268.1C508.2 267.9 510.0 267.7 511.8 267.3C513.6 266.9 515.5 266.3 517.3 265.6C519.1 264.9 520.9 264.0 522.7 262.9C523.8 262.2 524.9 261.4 526.0 260.2C526.9 259.2 527.8 257.8 528.7 256.4C529.6 255.0 530.5 253.2 531.4 252.0C532.1 251.0 532.9 250.5 533.6 250.0C534.0 249.7 534.5 249.6 534.9 249.7C535.6 249.9 536.2 250.2 536.9 250.9C537.3 251.3 537.6 252.2 538.0 253.1C538.2 253.7 538.5 254.7 538.7 255.5" stroke="#ff9408"/>
</g>
<g class="a">
<path d="M58.1 9.4 V362.4 H538.4"/>
<path class="k" d="M218.2 362.4 V357.0"/>
<path class="k" d="M378.3 362.4 V357.0"/>
<path class="k" d="M538.4 362.4 V357.0"/>
<path class="k" d="M58.1 274.1 H64.0"/>
<path class="k" d="M58.1 185.9 H64.0"/>
<path class="k" d="M58.1 97.6 H64.0"/>
<path class="k" d="M58.1 9.4 H64.0"/>
</g>
<g class="l">
<text x="58.1" y="382.6" text-anchor="middle">0</text><text x="218.2" y="382.6" text-anchor="middle">20</text><text x="378.3" y="382.6" text-anchor="middle">40</text><text x="539.2" y="382.6" text-anchor="middle">60</text>
<text x="51.6" y="368.2" text-anchor="end">0</text><text x="51.6" y="279.9" text-anchor="end">5</text><text x="51.6" y="191.7" text-anchor="end">10</text><text x="51.6" y="103.4" text-anchor="end">15</text><text x="51.6" y="15.2" text-anchor="end">20</text>
<text x="73.3" y="95.9">EPDO-40</text>
<text x="72.1" y="179.9">EPDO-60</text>
<text x="72.1" y="266.9">EPDO-80</text>
<text x="70.2" y="349.0">Medium</text>
</g>
<g class="c"><path d="M472.2 283.0 H509.4" stroke="#fc2a30" style="stroke-width:1.8"/><path d="M472.2 303.3 H509.4" stroke="#0e62e8" style="stroke-width:1.8"/><path d="M472.2 323.6 H509.4" stroke="#10ab56" style="stroke-width:1.8"/><path d="M472.2 343.9 H509.4" stroke="#ff9408" style="stroke-width:1.8"/></g>
<g class="l"><text x="542" y="289.2" text-anchor="end">0 h</text><text x="542" y="309.5" text-anchor="end">6 h</text><text x="542" y="329.8" text-anchor="end">12 h</text><text x="542" y="350.1" text-anchor="end">24 h</text></g>
<text class="t" transform="translate(192.9 407.2) scale(1.04 1)">Rentention time (min)</text>
<text class="t" transform="translate(18.6 257.6) rotate(-90) scale(1.058 1)">Intensity (mV)</text>
</svg>
</body></html>
